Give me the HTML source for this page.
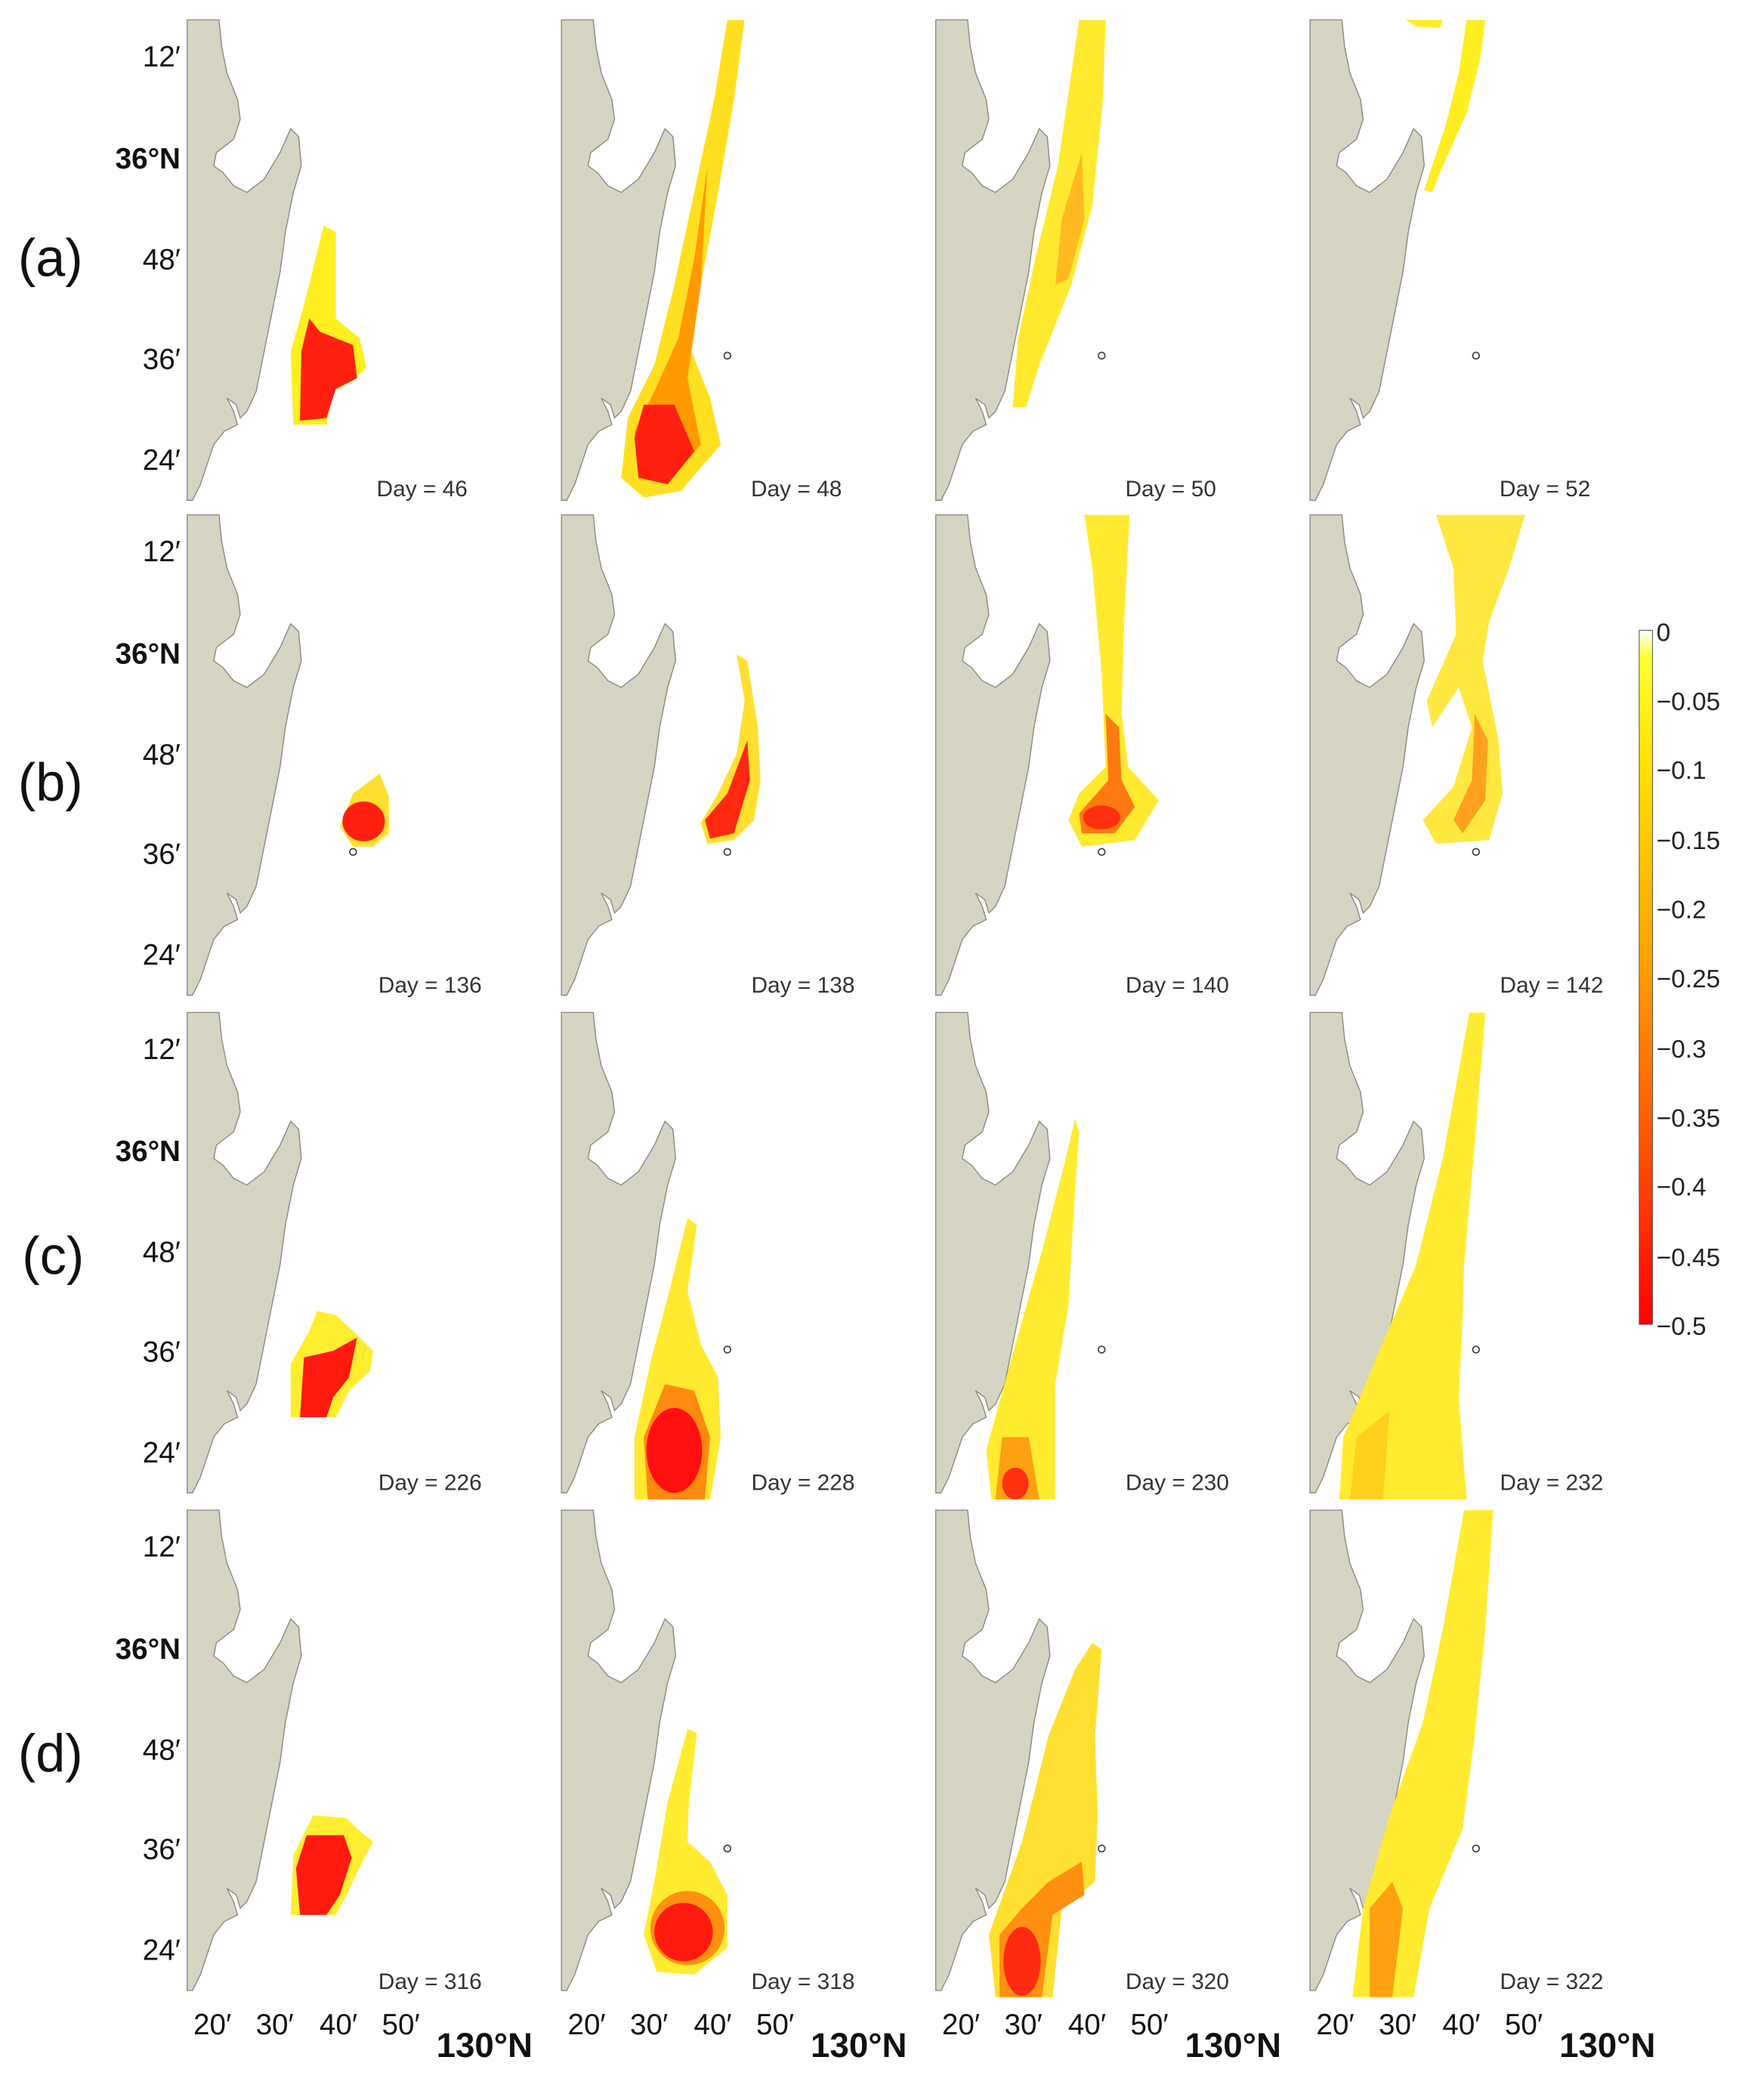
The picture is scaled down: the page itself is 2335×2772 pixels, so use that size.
<!DOCTYPE html>
<html><head><meta charset="utf-8"><style>html,body{margin:0;padding:0;background:#fff}svg{display:block}</style></head>
<body>
<svg width="2335" height="2772" viewBox="0 0 1329 1578" preserveAspectRatio="none" xmlns="http://www.w3.org/2000/svg" font-family="Liberation Sans, sans-serif">
<defs>
<path id="land" d="M0,0 L24,0 L26,20 L30,40 L38,60 L40,75 L35,90 L22,100 L20,110 L27,115 L35,125 L45,130 L58,120 L70,100 L78,82 L84,88 L86,110 L80,130 L74,160 L70,190 L64,220 L58,250 L52,280 L45,295 L40,300 L37,290 L30,285 L35,295 L38,305 L28,310 L20,320 L15,335 L10,350 L4,362 L0,362 Z" fill="#d6d4c2" stroke="#8a8a80" stroke-width="0.8"/>
<linearGradient id="cb" x1="0" y1="0" x2="0" y2="1">
<stop offset="0" stop-color="#ffffff"/><stop offset="0.04" stop-color="#ffff30"/><stop offset="0.2" stop-color="#ffe000"/><stop offset="0.45" stop-color="#ffa800"/><stop offset="0.7" stop-color="#ff6000"/><stop offset="1" stop-color="#ff0000"/>
</linearGradient>
<g id="ylab" font-size="22" fill="#111" text-anchor="end">
<text x="136" y="43">12′</text>
<text x="136" y="120" font-weight="bold">36°N</text>
<text x="136" y="196">48′</text>
<text x="136" y="271">36′</text>
<text x="136" y="347">24′</text>
</g>
</defs>

<!-- row labels -->
<use href="#ylab" x="0" y="7"/>
<use href="#ylab" x="0" y="380"/>
<use href="#ylab" x="0" y="755"/>
<use href="#ylab" x="0" y="1130"/>
<g font-size="40" fill="#111" text-anchor="middle">
<text x="38" y="208">(a)</text><text x="38" y="603">(b)</text><text x="40" y="960">(c)</text><text x="38" y="1335">(d)</text>
</g>

<!-- land -->
<g>
<use href="#land" x="141" y="15"/><use href="#land" x="423" y="15"/><use href="#land" x="705" y="15"/><use href="#land" x="987" y="15"/>
<use href="#land" x="141" y="388"/><use href="#land" x="423" y="388"/><use href="#land" x="705" y="388"/><use href="#land" x="987" y="388"/>
<use href="#land" x="141" y="763"/><use href="#land" x="423" y="763"/><use href="#land" x="705" y="763"/><use href="#land" x="987" y="763"/>
<use href="#land" x="141" y="1138"/><use href="#land" x="423" y="1138"/><use href="#land" x="705" y="1138"/><use href="#land" x="987" y="1138"/>
</g>

<!-- Row a -->
<g transform="translate(141,15)">
<path d="M103,155 L112,160 L112,225 L130,240 L135,262 L125,272 L110,280 L105,305 L80,305 L78,250 L88,215 Z" fill="#ffee20"/>
<path d="M92,225 L100,235 L125,245 L128,270 L112,278 L105,300 L85,302 L86,250 Z" fill="#ff2010"/>
</g>
<g transform="translate(423,15)">
<path d="M125,0 L138,0 L130,60 L118,130 L105,200 L98,250 L112,285 L120,320 L90,355 L62,360 L45,345 L50,300 L70,260 L85,200 L100,130 L115,60 Z" fill="#ffe020"/>
<path d="M110,110 L100,180 L88,240 L70,280 L55,310 L58,345 L80,350 L105,320 L95,270 L105,200 Z" fill="#ff9a00"/>
<path d="M62,290 L85,290 L100,325 L80,350 L58,345 L55,315 Z" fill="#ff2010"/>
</g>
<g transform="translate(705,15)">
<path d="M108,0 L128,0 L126,60 L118,140 L102,200 L78,260 L68,292 L58,292 L62,240 L75,180 L92,110 Z" fill="#ffea30"/>
<path d="M110,100 L112,150 L100,195 L90,200 L95,150 Z" fill="#ffba20"/>
</g>
<g transform="translate(987,15)">
<path d="M72,0 L100,0 L98,6 L80,5 Z M118,0 L132,0 L128,30 L118,70 L100,110 L92,130 L86,128 L102,80 L112,40 Z" fill="#ffee20"/>
</g>

<!-- Row b -->
<g transform="translate(141,388)">
<path d="M125,210 L145,195 L152,212 L152,240 L140,250 L125,250 L115,235 Z" fill="#ffe030"/>
<ellipse cx="133" cy="231" rx="16" ry="15" fill="#ff2010"/>
</g>
<g transform="translate(423,388)">
<path d="M132,105 L140,110 L148,160 L150,200 L145,230 L130,245 L110,248 L105,232 L118,210 L132,180 L138,140 Z" fill="#ffe030"/>
<path d="M140,170 L142,200 L130,240 L112,244 L108,230 L125,210 Z" fill="#ff2810"/>
</g>
<g transform="translate(705,388)">
<path d="M112,0 L146,0 L142,80 L140,150 L145,190 L168,215 L150,245 L110,250 L100,230 L108,210 L128,190 L125,120 L118,40 Z" fill="#ffea30"/>
<path d="M128,150 L138,160 L140,200 L150,220 L135,240 L110,240 L108,225 L130,200 Z" fill="#ff7a10"/>
<ellipse cx="125" cy="228" rx="14" ry="9" fill="#ff3010"/>
</g>
<g transform="translate(987,388)">
<path d="M95,0 L162,0 L150,40 L135,80 L130,110 L142,170 L145,210 L135,245 L95,248 L85,230 L108,205 L122,160 L112,130 L92,160 L88,140 L110,90 L108,40 Z" fill="#ffe840"/>
<path d="M124,150 L134,170 L132,215 L115,240 L108,230 L122,200 Z" fill="#ffa020"/>
</g>

<!-- Row c -->
<g transform="translate(141,763)">
<path d="M98,225 L112,228 L125,240 L140,255 L138,270 L122,285 L112,305 L78,305 L78,265 L92,240 Z" fill="#ffee30"/>
<path d="M88,260 L110,255 L128,245 L122,275 L110,290 L105,305 L85,305 Z" fill="#ff1a10"/>
</g>
<g transform="translate(423,763)">
<path d="M95,155 L102,160 L95,210 L105,250 L118,275 L120,320 L112,367 L55,367 L55,320 L68,260 L80,215 Z" fill="#ffea30"/>
<path d="M78,280 L100,285 L112,320 L108,367 L65,367 L62,320 Z" fill="#ff8a10"/>
<ellipse cx="85" cy="330" rx="21" ry="32" fill="#ff1010"/>
</g>
<g transform="translate(705,763)">
<path d="M105,80 L108,90 L104,150 L100,220 L90,280 L90,367 L42,367 L38,330 L60,250 L80,180 L98,110 Z" fill="#ffec30"/>
<path d="M50,320 L70,320 L78,367 L45,367 Z" fill="#ffa010"/>
<ellipse cx="60" cy="355" rx="10" ry="12" fill="#ff3010"/>
</g>
<g transform="translate(987,763)">
<path d="M120,0 L132,0 L124,100 L116,190 L115,230 L112,290 L118,367 L22,367 L25,320 L50,260 L80,190 L100,110 Z" fill="#ffec30"/>
<path d="M35,320 L60,300 L55,367 L30,367 Z" fill="#ffd020"/>
</g>

<!-- Row d -->
<g transform="translate(141,1138)">
<path d="M95,230 L120,232 L128,240 L140,250 L132,265 L120,290 L112,305 L78,305 L80,260 Z" fill="#ffee30"/>
<path d="M90,245 L118,245 L124,262 L115,290 L105,305 L85,305 L82,270 Z" fill="#ff1a10"/>
</g>
<g transform="translate(423,1138)">
<path d="M95,165 L102,168 L96,220 L95,250 L112,265 L125,290 L125,330 L100,350 L72,348 L62,320 L70,280 L80,220 Z" fill="#ffec30"/>
<ellipse cx="95" cy="315" rx="28" ry="28" fill="#ff9010"/>
<ellipse cx="92" cy="318" rx="22" ry="22" fill="#ff1a10"/>
</g>
<g transform="translate(705,1138)">
<path d="M118,100 L125,105 L120,170 L122,230 L120,280 L95,300 L88,367 L45,367 L40,320 L65,250 L85,170 L105,120 Z" fill="#ffe030"/>
<path d="M85,280 L110,265 L112,290 L88,305 L80,367 L48,367 L48,320 L65,300 Z" fill="#ff9010"/>
<ellipse cx="65" cy="340" rx="14" ry="26" fill="#ff2a10"/>
</g>
<g transform="translate(987,1138)">
<path d="M116,0 L138,0 L132,90 L124,170 L115,240 L90,300 L78,367 L32,367 L40,300 L60,230 L85,160 L100,90 Z" fill="#ffec30"/>
<path d="M45,300 L62,280 L70,300 L62,367 L45,367 Z" fill="#ffa010"/>
</g>

<!-- station markers -->
<g fill="none" stroke="#444" stroke-width="1">
<circle cx="548" cy="268" r="2.5"/><circle cx="830" cy="268" r="2.5"/><circle cx="1112" cy="268" r="2.5"/>
<circle cx="266" cy="642" r="2.5"/><circle cx="548" cy="642" r="2.5"/><circle cx="830" cy="642" r="2.5"/><circle cx="1112" cy="642" r="2.5"/>
<circle cx="548" cy="1017" r="2.5"/><circle cx="830" cy="1017" r="2.5"/><circle cx="1112" cy="1017" r="2.5"/>
<circle cx="548" cy="1393" r="2.5"/><circle cx="830" cy="1393" r="2.5"/><circle cx="1112" cy="1393" r="2.5"/>
</g>

<!-- day labels -->
<g font-size="17" fill="#333" text-anchor="middle">
<text x="318" y="374">Day = 46</text><text x="600" y="374">Day = 48</text><text x="882" y="374">Day = 50</text><text x="1164" y="374">Day = 52</text>
<text x="324" y="748">Day = 136</text><text x="605" y="748">Day = 138</text><text x="887" y="748">Day = 140</text><text x="1169" y="748">Day = 142</text>
<text x="324" y="1123">Day = 226</text><text x="605" y="1123">Day = 228</text><text x="887" y="1123">Day = 230</text><text x="1169" y="1123">Day = 232</text>
<text x="324" y="1499">Day = 316</text><text x="605" y="1499">Day = 318</text><text x="887" y="1499">Day = 320</text><text x="1169" y="1499">Day = 322</text>
</g>

<!-- x labels -->
<g font-size="22" fill="#111" text-anchor="middle">
<text x="160" y="1533">20′</text><text x="207" y="1533">30′</text><text x="255" y="1533">40′</text><text x="302" y="1533">50′</text>
<text x="442" y="1533">20′</text><text x="489" y="1533">30′</text><text x="537" y="1533">40′</text><text x="584" y="1533">50′</text>
<text x="724" y="1533">20′</text><text x="771" y="1533">30′</text><text x="819" y="1533">40′</text><text x="866" y="1533">50′</text>
<text x="1006" y="1533">20′</text><text x="1053" y="1533">30′</text><text x="1101" y="1533">40′</text><text x="1148" y="1533">50′</text>
</g>
<g font-size="26" font-weight="bold" fill="#111" text-anchor="middle">
<text x="365" y="1550">130°N</text><text x="647" y="1550">130°N</text><text x="929" y="1550">130°N</text><text x="1211" y="1550">130°N</text>
</g>

<!-- colorbar -->
<rect x="1235" y="475" width="10" height="523" fill="url(#cb)" stroke="#555" stroke-width="0.6"/>
<g font-size="19" fill="#222">
<text x="1248" y="483">0</text><text x="1248" y="535">−0.05</text><text x="1248" y="587">−0.1</text><text x="1248" y="640">−0.15</text><text x="1248" y="692">−0.2</text><text x="1248" y="744">−0.25</text><text x="1248" y="797">−0.3</text><text x="1248" y="849">−0.35</text><text x="1248" y="901">−0.4</text><text x="1248" y="954">−0.45</text><text x="1248" y="1006">−0.5</text>
</g>
</svg>
</body></html>
